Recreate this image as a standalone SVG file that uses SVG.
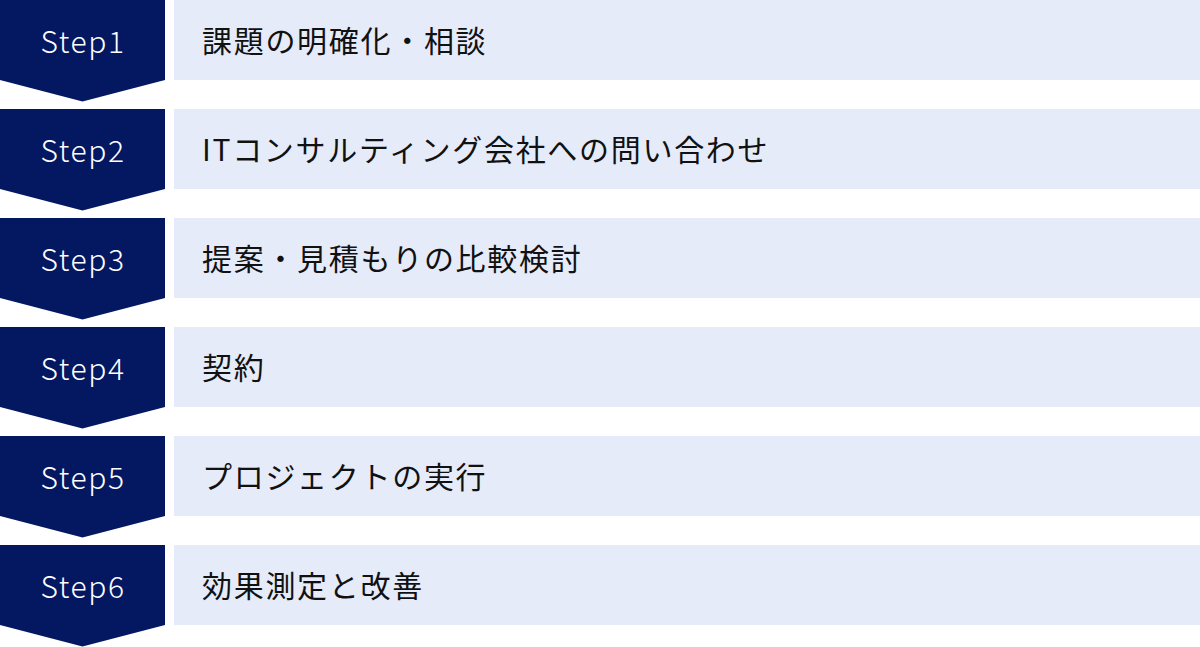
<svg xmlns="http://www.w3.org/2000/svg" width="1200" height="647" viewBox="0 0 1200 647">
<defs>
<style>
.chev{fill:#041862}
.bar{fill:#e5ebf9}
.step{font-family:"Noto Sans CJK JP","Noto Sans",sans-serif;font-size:30px;font-weight:300;fill:#ffffff;text-anchor:middle;letter-spacing:1.6px}
.lbl{font-family:"Noto Sans CJK JP","Noto Sans",sans-serif;font-size:30px;fill:#111111;letter-spacing:1.7px}
</style>
<polygon id="chevShape" points="0,0 165,0 165,80 82.5,101.5 0,80"/>
</defs>
<rect width="1200" height="647" fill="#ffffff"/>
<g id="connectors"></g>
<g id="step1" transform="translate(0,0)">
<use href="#chevShape" class="chev"/>
<rect class="bar" x="174" y="0" width="1026" height="80"/>
<text class="step" x="83" y="53">Step1</text>
<text class="lbl" x="202" y="52">課題の明確化・相談</text>
</g>
<g id="step2" transform="translate(0,109)">
<use href="#chevShape" class="chev"/>
<rect class="bar" x="174" y="0" width="1026" height="80"/>
<text class="step" x="83" y="53">Step2</text>
<text class="lbl" x="202" y="52">ITコンサルティング会社への問い合わせ</text>
</g>
<g id="step3" transform="translate(0,218)">
<use href="#chevShape" class="chev"/>
<rect class="bar" x="174" y="0" width="1026" height="80"/>
<text class="step" x="83" y="53">Step3</text>
<text class="lbl" x="202" y="52">提案・見積もりの比較検討</text>
</g>
<g id="step4" transform="translate(0,327)">
<use href="#chevShape" class="chev"/>
<rect class="bar" x="174" y="0" width="1026" height="80"/>
<text class="step" x="83" y="53">Step4</text>
<text class="lbl" x="202" y="52">契約</text>
</g>
<g id="step5" transform="translate(0,436)">
<use href="#chevShape" class="chev"/>
<rect class="bar" x="174" y="0" width="1026" height="80"/>
<text class="step" x="83" y="53">Step5</text>
<text class="lbl" x="202" y="52">プロジェクトの実行</text>
</g>
<g id="step6" transform="translate(0,545)">
<use href="#chevShape" class="chev"/>
<rect class="bar" x="174" y="0" width="1026" height="80"/>
<text class="step" x="83" y="53">Step6</text>
<text class="lbl" x="202" y="52">効果測定と改善</text>
</g>
</svg>
